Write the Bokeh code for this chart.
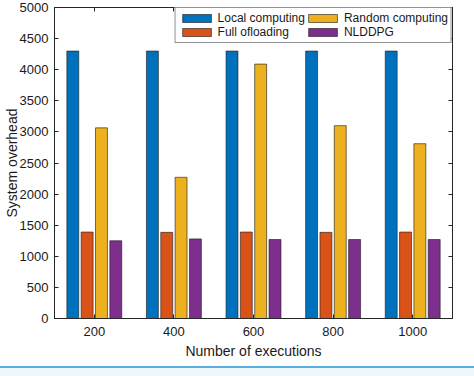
from bokeh.plotting import figure
from bokeh.models import (ColumnDataSource, LinearAxis, Legend, LegendItem,
                          FixedTicker, Range1d, Div)
from bokeh.layouts import column
from bokeh.embed import file_html
from bokeh.resources import INLINE

executions = [200, 400, 600, 800, 1000]
local_computing = [4300, 4300, 4300, 4300, 4300]
full_offloading = [1390, 1385, 1390, 1385, 1390]
random_computing = [3065, 2270, 4090, 3100, 2810]
nlddpg = [1250, 1280, 1270, 1270, 1270]

series_names = ["Local computing", "Full ofloading", "Random computing", "NLDDPG"]
series_values = [local_computing, full_offloading, random_computing, nlddpg]
colors = ["#0072BD", "#D95319", "#EDB120", "#7E2F8E"]
offsets = [-54, -18, 18, 54]
bar_w = 30

FONT = "Liberation Sans"
AX = "#262626"

p = figure(width=474, height=366, output_backend="svg", toolbar_location=None,
           x_range=Range1d(100, 1100), y_range=Range1d(0, 5000),
           min_border_left=0, min_border_right=22, min_border_top=7,
           min_border_bottom=48)
p.grid.visible = False
p.outline_line_color = AX
p.outline_line_width = 1
p.background_fill_color = "white"
p.border_fill_color = "white"

renderers = []
for name, vals, c, off in zip(series_names, series_values, colors, offsets):
    src = ColumnDataSource(dict(x=[e + off for e in executions], top=vals))
    r = p.vbar(x="x", top="top", width=bar_w, bottom=0, source=src,
               fill_color=c, line_color="#1a1a1a", line_width=0.6)
    renderers.append(r)

def style_axis(ax, show_labels=True):
    ax.axis_line_color = AX
    ax.major_tick_line_color = AX
    ax.major_tick_in = 4
    ax.major_tick_out = 0
    ax.minor_tick_line_color = None
    ax.major_label_text_font = FONT
    ax.major_label_text_font_size = "13px"
    ax.major_label_text_color = "#1a1a1a"
    ax.axis_label_text_font = FONT
    ax.axis_label_text_font_size = "14px"
    ax.axis_label_text_font_style = "normal"
    ax.axis_label_text_color = "#1a1a1a"
    if not show_labels:
        ax.major_label_text_font_size = "0px"
        ax.major_label_text_color = None
        ax.major_label_standoff = 0

xt = FixedTicker(ticks=executions)
yt = FixedTicker(ticks=list(range(0, 5001, 500)))
p.xaxis.ticker = xt
p.yaxis.ticker = yt
p.xaxis.axis_label = "Number of executions"
p.yaxis.axis_label = "System overhead"
style_axis(p.xaxis[0])
style_axis(p.yaxis[0])
p.xaxis.major_label_standoff = 8
p.yaxis.major_label_standoff = 6
p.xaxis.axis_label_standoff = 4
p.yaxis.axis_label_standoff = -3

top_ax = LinearAxis(ticker=xt)
style_axis(top_ax, False)
p.add_layout(top_ax, "above")
right_ax = LinearAxis(ticker=yt)
style_axis(right_ax, False)
p.add_layout(right_ax, "right")

legend = Legend(items=[LegendItem(label=series_names[i], renderers=[renderers[i]]) for i in range(4)],
                ncols=2, location="top_right",
                label_text_font=FONT, label_text_font_size="12px",
                label_text_color="#1a1a1a",
                glyph_width=36, glyph_height=10, label_height=10,
                spacing=0, padding=3, margin=0, label_standoff=3,
                border_line_color=AX, border_line_width=1,
                background_fill_alpha=1)
p.add_layout(legend, "center")

strip = Div(text="", width=474, height=10, margin=0,
            styles={"border-top": "2px solid #5aaee0", "background": "#eef7fb",
                    "width": "474px", "height": "10px"})

layout = column(p, strip, spacing=0)
open("out.html", "w").write(file_html(layout, INLINE))
